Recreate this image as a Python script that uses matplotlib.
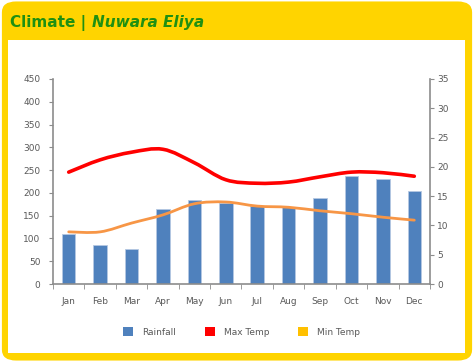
import matplotlib
matplotlib.use("Agg")
import matplotlib.pyplot as plt
import numpy as np
from matplotlib.patches import FancyBboxPatch, Rectangle, Patch, PathPatch
from matplotlib.path import Path

# data
months = ["Jan", "Feb", "Mar", "Apr", "May", "Jun", "Jul", "Aug", "Sep", "Oct", "Nov", "Dec"]
rainfall = [110, 86, 77, 165, 184, 178, 171, 169, 189, 237, 230, 204]
max_temp = [19.1, 21.2, 22.5, 23.0, 20.7, 17.8, 17.2, 17.4, 18.3, 19.1, 19.0, 18.4]
min_temp = [8.9, 8.9, 10.4, 11.8, 13.7, 14.0, 13.3, 13.1, 12.5, 12.0, 11.4, 10.9]
left_ticks = list(range(0, 451, 50))
right_ticks = list(range(0, 36, 5))

YELLOW = "#FFD400"
GREEN = "#1F9012"
GREY = "#595959"
AXIS = "#8C8C8C"


def smooth_path(x, y):
    # Catmull-Rom through the data points, drawn as cubic bezier segments
    x = np.asarray(x, float)
    y = np.asarray(y, float)
    verts = [(x[0], y[0])]
    codes = [Path.MOVETO]
    n = len(x)
    for i in range(n - 1):
        p0 = (x[max(i - 1, 0)], y[max(i - 1, 0)])
        p1 = (x[i], y[i])
        p2 = (x[i + 1], y[i + 1])
        p3 = (x[min(i + 2, n - 1)], y[min(i + 2, n - 1)])
        c1 = (p1[0] + (p2[0] - p0[0]) / 6, p1[1] + (p2[1] - p0[1]) / 6)
        c2 = (p2[0] - (p3[0] - p1[0]) / 6, p2[1] - (p3[1] - p1[1]) / 6)
        verts += [c1, c2, p2]
        codes += [Path.CURVE4] * 3
    return Path(verts, codes)


fig = plt.figure(figsize=(4.74, 3.62), dpi=100)
fig.patch.set_facecolor("white")

# yellow rounded frame with white panel
frame = FancyBboxPatch((0.004, 0.004), 0.992, 0.992, boxstyle="round,pad=0,rounding_size=0.03",
                       transform=fig.transFigure, facecolor=YELLOW, edgecolor="none", zorder=0)
fig.patches.append(frame)
panel = Rectangle((8 / 474, 1 - 353 / 362), (465 - 8) / 474, (353 - 40) / 362,
                  transform=fig.transFigure, facecolor="white", edgecolor="none", zorder=0.5)
fig.patches.append(panel)

# title
t1 = fig.text(10 / 474, 1 - 23 / 362, "Climate | ", color=GREEN, fontsize=11, fontweight="bold",
              va="center", ha="left")
fig.canvas.draw()
bb = t1.get_window_extent()
fig.text(bb.x1 / fig.bbox.width, 1 - 23 / 362, "Nuwara Eliya", color=GREEN, fontsize=11,
         fontweight="bold", fontstyle="italic", va="center", ha="left")

ax = fig.add_axes([53 / 474, 1 - 284 / 362, (430 - 53) / 474, (284 - 79) / 362])
ax.set_zorder(1)
ax.patch.set_alpha(0)
x = np.arange(len(months))
ax.bar(x, rainfall, width=0.43, color="#4F81BD", edgecolor="#B5C8E2", linewidth=0.6, zorder=2)
ax.set_xlim(-0.5, len(months) - 0.5)
ax.set_ylim(0, 450)
ax.set_yticks(left_ticks)
ax.set_xticks(x)
ax.set_xticklabels(months)
ax.set_xticks(np.arange(-0.5, len(months)), minor=True)
ax.tick_params(axis="x", which="major", length=0, pad=9, labelsize=6.5, labelcolor=GREY)
ax.tick_params(axis="x", which="minor", length=3.5, color=AXIS, direction="out")
ax.tick_params(axis="y", length=3, color=AXIS, labelsize=6.5, labelcolor=GREY, pad=6)
for s in ["top", "right"]:
    ax.spines[s].set_visible(False)
for s in ["left", "bottom"]:
    ax.spines[s].set_color(AXIS)
    ax.spines[s].set_linewidth(1.2)

ax2 = ax.twinx()
ax2.set_ylim(0, 35)
ax2.set_yticks(right_ticks)
ax2.tick_params(axis="y", length=3, color=AXIS, labelsize=6.5, labelcolor=GREY, pad=2)
for s in ["top", "left", "bottom"]:
    ax2.spines[s].set_visible(False)
ax2.spines["right"].set_color(AXIS)
ax2.spines["right"].set_linewidth(1.2)

ax2.add_patch(PathPatch(smooth_path(x, max_temp), facecolor="none", edgecolor="#FF0000",
                        linewidth=2.6, capstyle="round", zorder=3))
ax2.add_patch(PathPatch(smooth_path(x, min_temp), facecolor="none", edgecolor="#F79646",
                        linewidth=2.0, capstyle="round", zorder=3))

handles = [Patch(facecolor="#4F81BD", label="Rainfall"),
           Patch(facecolor="#FF0000", label="Max Temp"),
           Patch(facecolor="#FFC000", label="Min Temp")]
fig.legend(handles=handles, loc="center", bbox_to_anchor=(0.51, 1 - 332 / 362), ncol=3,
           frameon=False, fontsize=6.5, labelcolor=GREY, handlelength=1.1, handleheight=1.1,
           columnspacing=3.2, handletextpad=1.0)

fig.savefig("out.png", dpi=100)
